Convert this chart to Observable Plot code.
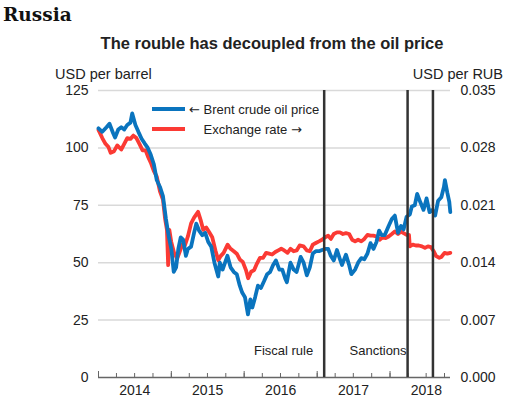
<!DOCTYPE html>
<html>
<head>
<meta charset="utf-8">
<script src="https://cdn.jsdelivr.net/npm/d3@7"></script>
<script src="https://cdn.jsdelivr.net/npm/@observablehq/plot@0.6"></script>
<style>
  html, body { margin: 0; padding: 0; background: #fff; }
  #chart { width: 515px; height: 399px; }
</style>
</head>
<body>
<div id="chart"></div>
<script>
// ---- Data ----
const title = "Russia";
const subtitle = "The rouble has decoupled from the oil price";
const leftAxisTitle = "USD per barrel";
const rightAxisTitle = "USD per RUB";
const brentLabel = "Brent crude oil price";
const rubLabel = "Exchange rate";

const leftTicks = [0, 25, 50, 75, 100, 125];
const rightTickLabels = ["0.000", "0.007", "0.014", "0.021", "0.028", "0.035"];
const yearLabels = ["2014", "2015", "2016", "2017", "2018"];

const eventDates = ["2017-02-05", "2018-03-30", "2018-08-04"];
const eventLabels = ["Fiscal rule", "Sanctions", ""];

// Brent crude oil price, USD per barrel
const brentDates = [
  "2014-01-01","2014-01-20","2014-02-10","2014-02-25","2014-03-15","2014-03-25","2014-04-10","2014-04-25",
  "2014-05-10","2014-05-25","2014-06-10","2014-06-19","2014-07-05","2014-07-20","2014-08-05","2014-08-20",
  "2014-09-05","2014-09-20","2014-10-05","2014-10-20","2014-11-05","2014-11-20","2014-12-05","2014-12-20",
  "2015-01-01","2015-01-13","2015-01-25","2015-02-05","2015-02-17","2015-03-01","2015-03-15","2015-03-25",
  "2015-04-10","2015-04-25","2015-05-06","2015-05-20","2015-06-05","2015-06-20","2015-07-05","2015-07-20",
  "2015-08-05","2015-08-24","2015-09-01","2015-09-15","2015-10-09","2015-10-25","2015-11-10","2015-11-25",
  "2015-12-10","2015-12-22","2016-01-05","2016-01-20","2016-02-01","2016-02-11","2016-02-25","2016-03-10",
  "2016-03-25","2016-04-10","2016-04-25","2016-05-10","2016-05-25","2016-06-08","2016-06-25","2016-07-10",
  "2016-07-25","2016-08-02","2016-08-20","2016-09-05","2016-09-20","2016-10-10","2016-10-25","2016-11-10",
  "2016-11-25","2016-12-10","2016-12-25","2017-01-10","2017-01-25","2017-02-10","2017-02-25","2017-03-10",
  "2017-03-25","2017-04-10","2017-04-25","2017-05-05","2017-05-25","2017-06-10","2017-06-21","2017-07-10",
  "2017-07-25","2017-08-10","2017-08-25","2017-09-10","2017-09-25","2017-10-10","2017-10-25","2017-11-07",
  "2017-11-20","2017-12-05","2017-12-25","2018-01-10","2018-01-25","2018-02-10","2018-02-25","2018-03-10",
  "2018-03-25","2018-04-10","2018-04-20","2018-05-05","2018-05-17","2018-06-01","2018-06-18","2018-07-03",
  "2018-07-18","2018-08-01","2018-08-15","2018-08-30","2018-09-15","2018-09-28","2018-10-03","2018-10-15",
  "2018-10-25","2018-10-30"
];
const brentValues = [
  108.5,107,109,110.5,106.5,104.5,108,109,
  108,110,111,115,110,107,104,102,
  100,97,93,86,83,79,69,61,
  56,46,48,56,61,60,53,56,
  57,63,67,64,62,63,59,57,
  50,44,50,47,53,48,46,45,
  40,37,35,27.5,34,30.5,35,40,
  39,42,45,46,49,51,47,47,
  43,41.5,50,47,46,52.5,50,44.5,
  48,54,55,55,55.5,56,56,53,
  51,55.5,51.5,49,53.5,49,45,47,
  50,52,51.5,54,58.5,56,59,64,
  62,62,66,69,70.5,63,66,64.5,
  70,71,74.5,75,80,76.5,73,78,
  72,73,70.5,77,78.5,83,86,80.5,
  76.5,72
];

// Exchange rate, USD per RUB
const rubDates = [
  "2014-01-01","2014-01-20","2014-02-05","2014-02-20","2014-03-03","2014-03-20","2014-04-05","2014-04-25",
  "2014-05-10","2014-05-25","2014-06-10","2014-06-25","2014-07-10","2014-07-25","2014-08-10","2014-08-25",
  "2014-09-05","2014-09-20","2014-10-05","2014-10-20","2014-11-05","2014-11-20","2014-12-01","2014-12-10",
  "2014-12-16","2014-12-22","2014-12-31","2015-01-15","2015-01-30","2015-02-10","2015-02-25","2015-03-10",
  "2015-03-25","2015-04-10","2015-04-25","2015-05-15","2015-05-28","2015-06-10","2015-06-25","2015-07-10",
  "2015-07-25","2015-08-10","2015-08-24","2015-09-05","2015-09-20","2015-10-10","2015-10-25","2015-11-10",
  "2015-11-25","2015-12-10","2015-12-25","2016-01-10","2016-01-21","2016-02-05","2016-02-20","2016-03-05",
  "2016-03-20","2016-04-05","2016-04-20","2016-05-05","2016-05-20","2016-06-05","2016-06-20","2016-07-05",
  "2016-07-20","2016-08-05","2016-08-20","2016-09-05","2016-09-20","2016-10-05","2016-10-25","2016-11-10",
  "2016-11-25","2016-12-10","2016-12-25","2017-01-10","2017-01-25","2017-02-10","2017-02-25","2017-03-10",
  "2017-03-25","2017-04-10","2017-04-25","2017-05-10","2017-05-25","2017-06-10","2017-06-25","2017-07-10",
  "2017-07-25","2017-08-10","2017-08-25","2017-09-10","2017-09-25","2017-10-10","2017-10-25","2017-11-10",
  "2017-11-25","2017-12-10","2017-12-25","2018-01-10","2018-01-25","2018-02-10","2018-02-25","2018-03-10",
  "2018-03-25","2018-04-06","2018-04-10","2018-04-25","2018-05-10","2018-05-25","2018-06-10","2018-06-25",
  "2018-07-10","2018-07-25","2018-08-08","2018-08-20","2018-09-05","2018-09-15","2018-10-01","2018-10-15",
  "2018-10-30"
];
const rubValues = [
  0.0302,0.0292,0.0285,0.0281,0.0274,0.0276,0.0283,0.0278,
  0.0285,0.0292,0.0291,0.0295,0.0292,0.0285,0.0277,0.0277,
  0.0270,0.0262,0.0252,0.0245,0.0227,0.0217,0.0193,0.0180,
  0.0137,0.0180,0.0166,0.0152,0.0145,0.0152,0.0162,0.0161,
  0.0172,0.0188,0.0195,0.0202,0.0192,0.0180,0.0183,0.0177,
  0.0171,0.0155,0.0143,0.0148,0.0152,0.0162,0.0157,0.0154,
  0.0151,0.0144,0.0141,0.0131,0.0121,0.0129,0.0131,0.0139,
  0.0146,0.0146,0.0152,0.0151,0.0150,0.0153,0.0155,0.0157,
  0.0155,0.0152,0.0157,0.0154,0.0155,0.0161,0.0160,0.0155,
  0.0154,0.0162,0.0164,0.0166,0.0168,0.0171,0.0173,0.0169,
  0.0175,0.0177,0.0177,0.0175,0.0176,0.0175,0.0168,0.0166,
  0.0168,0.0166,0.0169,0.0174,0.0173,0.0173,0.0172,0.0168,
  0.0171,0.0170,0.0172,0.0175,0.0178,0.0175,0.0178,0.0176,
  0.0174,0.0174,0.0160,0.0162,0.0161,0.0161,0.0160,0.0158,
  0.0160,0.0159,0.0154,0.0148,0.0146,0.0147,0.0152,0.0151,
  0.0152
];

// ---- Build tables ----
const parse = d3.utcParse("%Y-%m-%d");
const brent = brentDates.map((d, i) => ({date: parse(d), value: brentValues[i]}));
const rub = rubDates.map((d, i) => ({date: parse(d), value: rubValues[i]}));
const events = eventDates.map((d, i) => ({date: parse(d), label: eventLabels[i]}));
const rightMax = 0.035, leftMax = 125;
const toLeft = v => v * leftMax / rightMax;
const rightFormat = v => rightTickLabels[leftTicks.indexOf(v)];
const quarterTicks = d3.utcMonth.every(3).range(new Date(Date.UTC(2014,0,1)), new Date(Date.UTC(2018,10,1)));
const yearTicks = yearLabels.map(y => new Date(Date.UTC(+y, 0, 1)));
const midYearTicks = yearLabels.map(y => new Date(Date.UTC(+y, 6, 2)));

const BLUE = "#0a74be";
const RED = "#fb3a34";
const TEXT = "#222";
const FONT = "'Liberation Sans', Arial, sans-serif";

const W = 515, H = 399;
const chart = Plot.plot({
  width: W,
  height: H,
  marginTop: 90,
  marginBottom: 22,
  marginLeft: 98,
  marginRight: 65,
  style: {fontFamily: FONT, fontSize: "14px", color: TEXT, background: "#fff", overflow: "visible"},
  x: {type: "utc", domain: [new Date(Date.UTC(2014,0,1)), new Date(Date.UTC(2018,9,31))]},
  y: {domain: [0, 125]},
  marks: [
    Plot.gridY(leftTicks.filter(v => v > 0), {stroke: "#d9d9d9", strokeOpacity: 1, strokeWidth: 1.5}),
    Plot.axisY(leftTicks, {anchor: "left", tickSize: 0, tickPadding: 10, label: null, fill: TEXT, fontSize: 14}),
    Plot.axisY(leftTicks, {anchor: "right", tickSize: 0, tickPadding: 10, label: null, tickFormat: rightFormat, fill: TEXT, fontSize: 14}),
    Plot.axisX(quarterTicks, {tickSize: -4, tickFormat: () => "", label: null, stroke: "#666"}),
    Plot.axisX(yearTicks, {tickSize: -6, tickFormat: () => "", label: null, stroke: "#666"}),
    Plot.axisX(midYearTicks, {tickSize: 0, tickPadding: 8, tickFormat: d3.utcFormat("%Y"), label: null, fill: TEXT, fontSize: 14}),
    Plot.ruleY([0], {stroke: "#666", strokeWidth: 1.5}),
    Plot.line(rub, {x: "date", y: d => toLeft(d.value), stroke: RED, strokeWidth: 3.8, curve: "linear"}),
    Plot.line(brent, {x: "date", y: "value", stroke: BLUE, strokeWidth: 3.8, curve: "linear"}),
    Plot.ruleX(events, {x: "date", stroke: "#333", strokeWidth: 2.5}),
    Plot.text(events.filter(e => e.label === "Fiscal rule"), {x: "date", text: "label", frameAnchor: "bottom", dy: -27, dx: -11, textAnchor: "end", lineAnchor: "middle", fill: TEXT, fontSize: 13}),
    Plot.text(events.filter(e => e.label === "Sanctions"), {x: "date", text: "label", frameAnchor: "bottom", dy: -27, dx: -1, textAnchor: "end", lineAnchor: "middle", fill: TEXT, fontSize: 13})
  ]
});

const svg = d3.select(chart);
// Title and subtitle
svg.append("text").attr("x", 3).attr("y", 21).attr("text-anchor", "start").text(title)
  .attr("font-family", "'DejaVu Serif', serif").attr("font-weight", "bold").attr("font-size", 18.5).attr("fill", "#111");
svg.append("text").attr("x", 272).attr("y", 49).attr("text-anchor", "middle").text(subtitle)
  .attr("font-family", FONT).attr("font-weight", "bold").attr("font-size", 16.5).attr("fill", TEXT);
// Axis titles
svg.append("text").attr("x", 55).attr("y", 79).attr("text-anchor", "start").text(leftAxisTitle)
  .attr("font-family", FONT).attr("font-size", 14.5).attr("fill", TEXT);
svg.append("text").attr("x", 503).attr("y", 79).attr("text-anchor", "end").text(rightAxisTitle)
  .attr("font-family", FONT).attr("font-size", 14.5).attr("fill", TEXT);
// Legend
const lg = svg.append("g");
const ARROW_FONT = "'DejaVu Sans', sans-serif";
// Brent: arrow before the label
lg.append("line").attr("x1", 152).attr("x2", 185).attr("y1", 109).attr("y2", 109).attr("stroke", BLUE).attr("stroke-width", 4);
const t1 = lg.append("text").attr("x", 189).attr("y", 109).attr("dy", "0.35em").attr("text-anchor", "start")
  .attr("font-family", FONT).attr("font-size", 13).attr("fill", TEXT);
t1.append("tspan").attr("font-family", ARROW_FONT).text("\u2190");
t1.append("tspan").text(" " + brentLabel);
// Exchange rate: arrow after the label
lg.append("line").attr("x1", 152).attr("x2", 185).attr("y1", 129).attr("y2", 129).attr("stroke", RED).attr("stroke-width", 4);
const t2 = lg.append("text").attr("x", 203.5).attr("y", 129).attr("dy", "0.35em").attr("text-anchor", "start")
  .attr("font-family", FONT).attr("font-size", 13).attr("fill", TEXT);
t2.append("tspan").text(rubLabel + " ");
t2.append("tspan").attr("font-family", ARROW_FONT).text("\u2192");

document.getElementById("chart").appendChild(chart);
</script>
</body>
</html>
